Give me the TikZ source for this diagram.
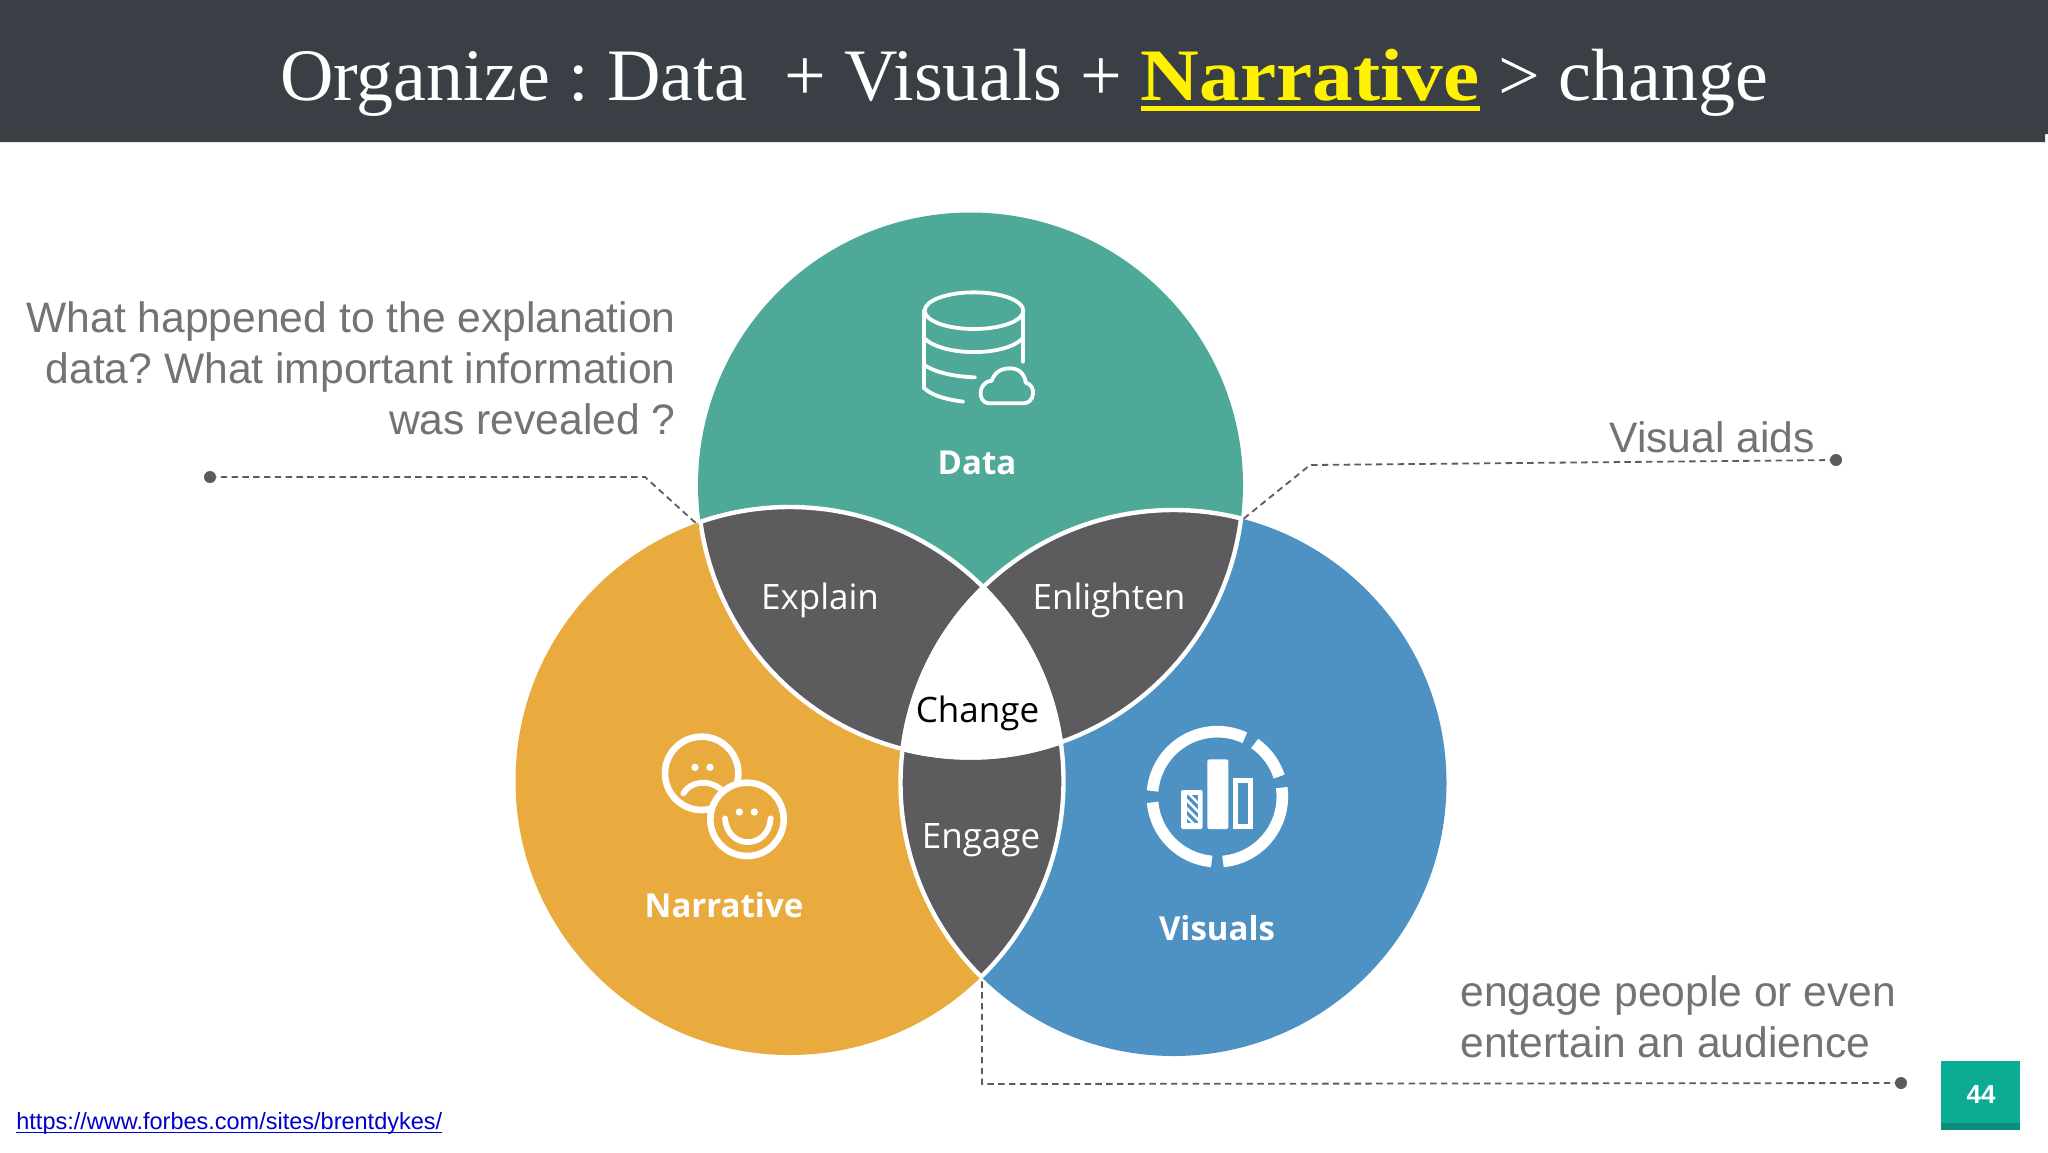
\documentclass[tikz,border=0pt]{standalone}
\usepackage{fontspec}
\setmainfont{Liberation Sans}
\newfontfamily\titlefont{Liberation Serif}
\newfontfamily\titlebold[FakeStretch=1.1]{Liberation Serif Bold}
\newfontfamily\vennfont{Open Sans}
\definecolor{headbg}{HTML}{3A3F46}
\definecolor{teal}{HTML}{4FA998}
\definecolor{amber}{HTML}{E9AB3D}
\definecolor{sky}{HTML}{4E92C4}
\definecolor{slate}{HTML}{5C5B5E}
\definecolor{note}{HTML}{737373}
\definecolor{badge}{HTML}{0CAB94}
\definecolor{badgedark}{HTML}{0A8F7C}
\definecolor{linkblue}{HTML}{0000CC}
\newcommand{\yellowul}[1]{\setbox0\hbox{#1}\rlap{\rule[-5pt]{\wd0}{2.3pt}}\box0}
\newcommand{\urlul}[1]{\setbox0\hbox{#1}\rlap{\rule[-1.6pt]{\wd0}{0.6pt}}\box0}
\tikzset{
  vennlabel/.style={font=\vennfont\fontsize{17.5}{20}\selectfont,text=white,anchor=base,inner sep=0pt},
  vennhead/.style={font=\vennfont\bfseries\fontsize{16.5}{20}\selectfont,text=white,anchor=base,inner sep=0pt},
  notetext/.style={font=\fontsize{21.3}{25.5}\selectfont,text=note,inner sep=0pt},
  leader/.style={draw=slate,line width=0.9pt,dash pattern=on 3.2pt off 2.2pt},
  dot/.style={circle,fill=slate,inner sep=0pt,minimum size=6pt},
  iconline/.style={draw=white,line width=1.9pt,line cap=round,line join=round},
  ringseg/.style={draw=white,line width=5.8pt},
}
\frenchspacing
\begin{document}
\frenchspacing
\begin{tikzpicture}[x=0.5pt,y=-0.5pt]
\useasboundingbox (0,0) rectangle (2048,1152);
\fill[white] (0,0) rectangle (2048,1152);
% header
\fill[headbg] (0,0) -- (2048,0) -- (2048,134) -- (2045,134) -- (2045,142) -- (0,142) -- cycle;
\node[anchor=base,inner sep=0pt,text=white,font=\titlefont\fontsize{37}{40}\selectfont] (title) at (1024,100.6)
  {Organize : Data\ \ + Visuals + \textcolor{yellow}{\yellowul{\titlebold Narrative}} > change};
% venn
\def\cD{(970.5,485) circle[radius=272.5]}
\def\cN{(789.5,781) circle[radius=274]}
\def\cV{(1173.5,783) circle[radius=273]}
\fill[teal] \cD;
\fill[amber] \cN;
\fill[sky] \cV;
\begin{scope}\clip \cD; \fill[slate] \cN; \fill[slate] \cV; \end{scope}
\begin{scope}\clip \cN; \fill[slate] \cV; \end{scope}
\begin{scope}\clip \cD; \clip \cN; \fill[white] \cV; \end{scope}
\begin{scope}\clip \cD; \draw[white,line width=2.2pt] \cN; \draw[white,line width=2.2pt] \cV; \end{scope}
\begin{scope}\clip \cN; \draw[white,line width=2.2pt] \cD; \draw[white,line width=2.2pt] \cV; \end{scope}
\begin{scope}\clip \cV; \draw[white,line width=2.2pt] \cD; \draw[white,line width=2.2pt] \cN; \end{scope}
% venn labels
\node[vennhead] (data) at (977,474.5) {Data};
\node[vennhead] (narrative) at (724,917) {Narrative};
\node[vennhead] (visuals) at (1217,940) {Visuals};
\node[vennlabel] (explain) at (820,609) {Explain};
\node[vennlabel] (enlighten) at (1109,609) {Enlighten};
\node[vennlabel,text=black] (change) at (977.5,722) {Change};
\node[vennlabel] (engage) at (981,848) {Engage};
% data icon
\begin{scope}[shift={(880,260)},xscale=1/3,yscale=1/3]
  \draw[iconline] (282,152) ellipse[x radius=148,y radius=55];
  \draw[iconline] (133,152) -- (133,385);
  \draw[iconline] (428,152) -- (428,305);
  \draw[iconline] (133,235) .. controls (190,290) and (375,290) .. (428,235);
  \draw[iconline] (133,315) .. controls (170,340) and (230,350) .. (285,352);
  \draw[iconline] (133,385) .. controls (160,410) and (210,420) .. (250,425);
  \draw[iconline] (325,430) .. controls (290,425) and (295,365) .. (335,362)
     .. controls (345,335) and (365,325) .. (390,325)
     .. controls (420,325) and (435,345) .. (437,368)
     .. controls (470,375) and (465,430) .. (430,430) -- cycle;
\end{scope}
% faces icon
\begin{scope}[shift={(640,710)},xscale=1/3,yscale=1/3]
  \draw[iconline,line width=3.3pt] (185,190) circle[radius=110];
  \draw[iconline,line width=2.9pt] (130,250) .. controls (150,215) and (205,205) .. (245,240);
  \fill[white] (165,172) circle[radius=11] (210,172) circle[radius=11];
  \draw[iconline,line width=3.3pt,fill=amber] (321,328) circle[radius=110];
  \fill[white] (298,306) circle[radius=11] (343,306) circle[radius=11];
  \draw[iconline,line width=2.9pt] (255,325) .. controls (262,420) and (385,420) .. (392,325);
\end{scope}
% chart icon
\begin{scope}[shift={(1120,700)},xscale=1/3,yscale=1/3]
  \draw[ringseg] ({292+195*cos(185)},{290+195*sin(185)}) arc[start angle=185,end angle=295,radius=195];
  \draw[ringseg] ({292+195*cos(305)},{290+195*sin(305)}) arc[start angle=305,end angle=342,radius=195];
  \draw[ringseg] ({292+195*cos(352)},{290+195*sin(352)}) arc[start angle=352,end angle=445,radius=195];
  \draw[ringseg] ({292+195*cos(95)},{290+195*sin(95)}) arc[start angle=95,end angle=175,radius=195];
  \fill[white,rounded corners=1pt] (183,270) rectangle (248,387);
  \fill[white,rounded corners=1pt] (262,178) rectangle (325,387);
  \fill[white] (338,235) rectangle (398,387);
  \fill[sky] (355,248) rectangle (385,372);
  \begin{scope}
    \clip (200,285) rectangle (235,370);
    \fill[sky] (200,285) rectangle (235,370);
    \foreach \yy in {270,295,320,345,370,395}
      \draw[white,line width=1.2pt] (195,\yy) -- (240,\yy+45);
  \end{scope}
\end{scope}
% notes
\node[notetext,anchor=north east,align=right] (noteleft) at (676,301)
  {What happened to the explanation\\data? What important information\\was revealed ?};
\node[notetext,anchor=base] (noteright) at (1712,452) {Visual aids};
\node[notetext,anchor=north west,align=left] (notebottom) at (1460,975)
  {engage people or even\\entertain an audience};
% leaders
\node[dot] (dotleft) at (210,477) {};
\node[dot] (dotright) at (1836,460) {};
\node[dot] (dotbottom) at (1901,1083) {};
\coordinate (kneeleft) at (645,477);
\coordinate (tipleft) at (699,526);
\coordinate (kneeright) at (1310,465);
\coordinate (tipright) at (1242,520);
\coordinate (kneebottom) at (982,1084);
\coordinate (tipbottom) at (982,980);
\draw[leader] (dotleft.center) -- (kneeleft) -- (tipleft);
\draw[leader] (dotright.center) -- (kneeright) -- (tipright);
\draw[leader] (dotbottom.center) -- (kneebottom) -- (tipbottom);
% link
\node[anchor=base west,inner sep=0pt,text=linkblue,font=\fontsize{11.75}{14}\selectfont] (link) at (16,1129.5)
  {\urlul{https://www.forbes.com/sites/brentdykes/}};
% page badge
\fill[badge] (1941,1061) rectangle (2020,1130);
\fill[badgedark] (1941,1123) rectangle (2020,1130);
\node[anchor=base,inner sep=0pt,text=white,font=\bfseries\fontsize{13}{15}\selectfont] (page) at (1981,1103) {44};
\end{tikzpicture}
\end{document}
